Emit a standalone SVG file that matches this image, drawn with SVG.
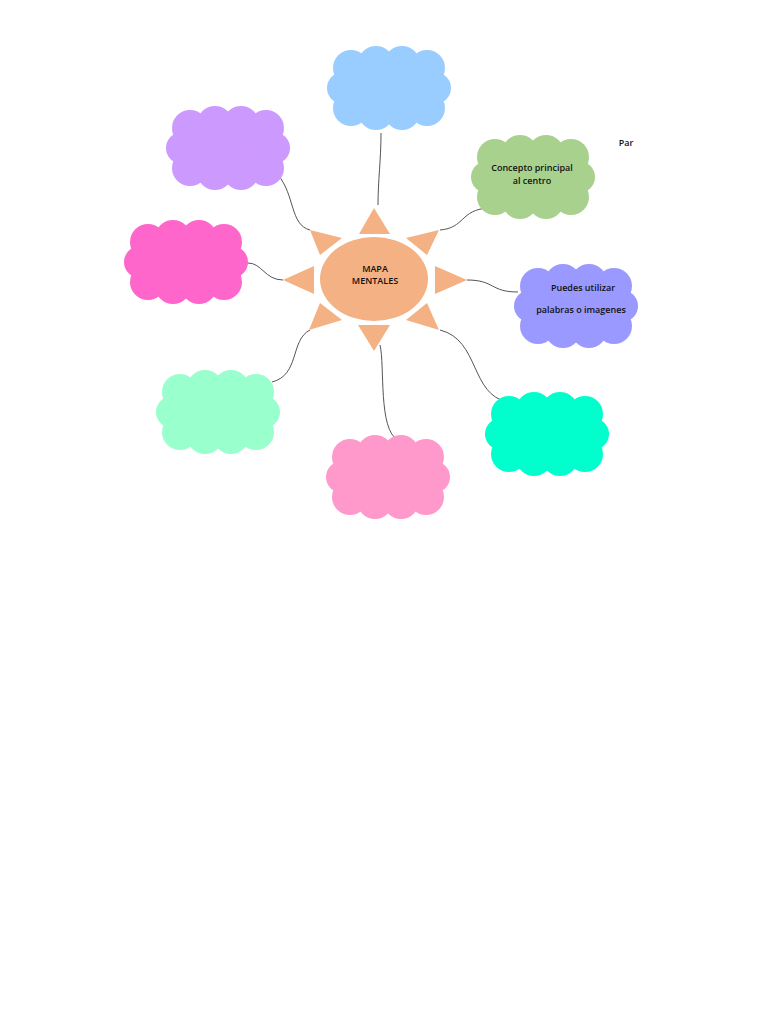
<svg xmlns="http://www.w3.org/2000/svg" xmlns:xlink="http://www.w3.org/1999/xlink" width="768" height="1024" viewBox="0 0 768 1024">
<style>
.t{font-family:"Open Sans","Liberation Sans",sans-serif;font-size:9px;fill:#111;text-anchor:middle;font-weight:600}
.c{fill:none;stroke:#555;stroke-width:1}
.ray{fill:#f4b183}
</style>
<defs>
<g id="cloud">
<ellipse cx="0" cy="0" rx="48" ry="28"/>
<circle cx="-38" cy="-20" r="18"/><circle cx="-13" cy="-24" r="18"/><circle cx="13" cy="-24" r="18"/><circle cx="38" cy="-20" r="18"/>
<circle cx="-38" cy="20" r="18"/><circle cx="-13" cy="24" r="18"/><circle cx="13" cy="24" r="18"/><circle cx="38" cy="20" r="18"/>
<circle cx="-46" cy="0" r="16"/><circle cx="46" cy="0" r="16"/>
</g>
</defs>
<rect width="768" height="1024" fill="#fff"/>
<g id="connectors">
<path class="c" d="M378,205 C378,180 381,160 381,133"/>
<path class="c" d="M310,230 C290,225 295,195 278,175"/>
<path class="c" d="M440,230 C465,228 460,210 488,208"/>
<path class="c" d="M283,280 C265,280 262,263 248,263"/>
<path class="c" d="M467,280 C495,280 490,292 518,292"/>
<path class="c" d="M310,330 C290,340 300,375 272,382"/>
<path class="c" d="M380,345 C385,365 378,430 398,440"/>
<path class="c" d="M440,330 C480,340 470,395 508,402"/>
</g>
<g id="sun">
<polygon class="ray" points="374,208 359,234 390,234"/>
<polygon class="ray" points="374,351 358,325 390,325"/>
<polygon class="ray" points="283,280 314,266 314,294"/>
<polygon class="ray" points="467,280 435,266 435,294"/>
<polygon class="ray" points="310,230 342,238 320,255"/>
<polygon class="ray" points="439,230 406,238 427,255"/>
<polygon class="ray" points="309,330 342,320 320,303"/>
<polygon class="ray" points="439,330 406,320 427,303"/>
<ellipse cx="374" cy="279" rx="54" ry="42" fill="#f4b183"/>
<text class="t" x="375" y="272" font-size="8">MAPA</text>
<text class="t" x="375" y="284" font-size="8">MENTALES</text>
</g>
<g id="n-blue" fill="#99ccff"><use xlink:href="#cloud" x="389" y="88"/></g>
<g id="n-purple" fill="#cc99ff"><use xlink:href="#cloud" x="228" y="148"/></g>
<g id="n-green" fill="#a9d18e"><use xlink:href="#cloud" x="533" y="177"/>
<text class="t" x="532" y="171">Concepto principal</text><text class="t" x="532" y="184">al centro</text></g>
<g id="n-magenta" fill="#ff66cc"><use xlink:href="#cloud" x="186" y="262"/></g>
<g id="n-lavender" fill="#9999ff"><use xlink:href="#cloud" x="576" y="306"/>
<text class="t" x="583" y="291">Puedes utilizar</text><text class="t" x="581" y="313">palabras o imagenes</text></g>
<g id="n-mint" fill="#99ffcc"><use xlink:href="#cloud" x="218" y="412"/></g>
<g id="n-cyan" fill="#00ffcc"><use xlink:href="#cloud" x="547" y="434"/></g>
<g id="n-pink" fill="#ff99cc"><use xlink:href="#cloud" x="388" y="477"/></g>
<text class="t" x="626" y="146">Par</text>
</svg>
